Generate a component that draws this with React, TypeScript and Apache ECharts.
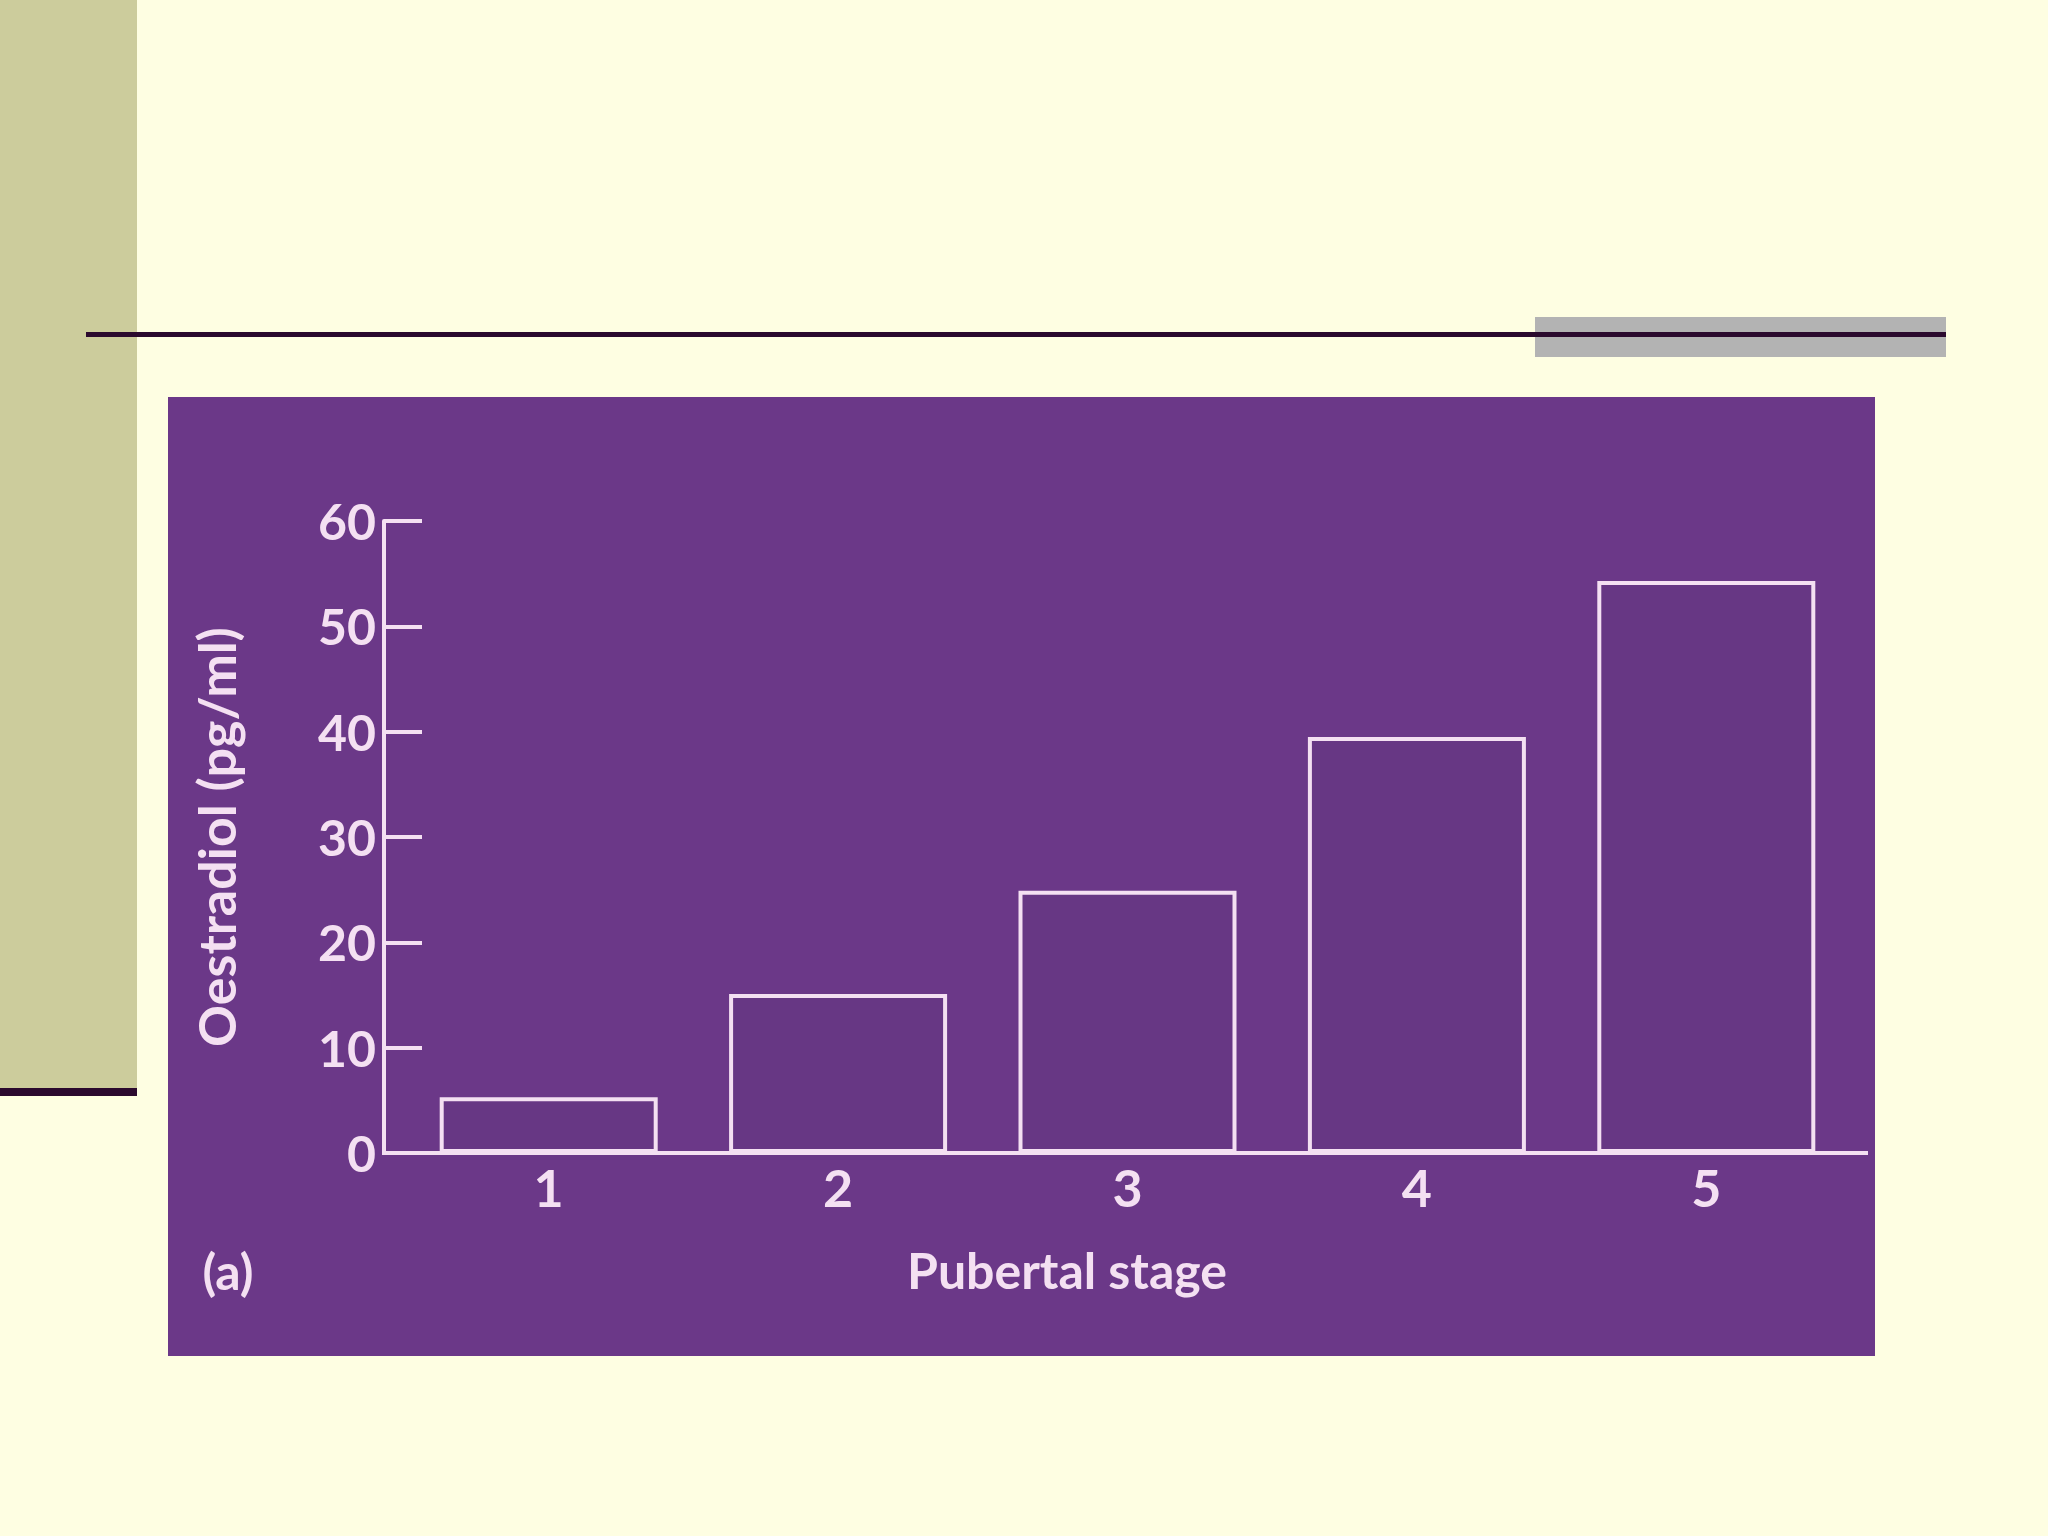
import React, { useEffect, useRef } from "react";
import * as echarts from "echarts";

const categories = ["1", "2", "3", "4", "5"];
const oestradiol = [5.3, 15.1, 24.9, 39.5, 54.3];
const yTicks = { min: 0, max: 60, interval: 10 };
const xTitle = "Pubertal stage";
const yTitle = "Oestradiol (pg/ml)";
const panelLabel = "(a)";

const INK = "#f4e0f2";
const FONT = "Lato, 'Open Sans', sans-serif";

export default function App() {
  const ref = useRef<HTMLDivElement>(null);
  useEffect(() => {
    if (!ref.current) return;
    const chart = echarts.init(ref.current, null, { renderer: "svg" });
    chart.setOption({
      animation: false,
      backgroundColor: "#fefee2",
      textStyle: { fontFamily: FONT },
      graphic: [
        { type: "rect", z: -10, shape: { x: 0, y: 0, width: 137, height: 1088 }, style: { fill: "#cccc9c" } },
        { type: "rect", z: -10, shape: { x: 0, y: 1088, width: 137, height: 8 }, style: { fill: "#2b0a2e" } },
        { type: "rect", z: -10, shape: { x: 1535, y: 317, width: 411, height: 40 }, style: { fill: "#b3b3b3" } },
        { type: "rect", z: -9, shape: { x: 86, y: 332, width: 1860, height: 5 }, style: { fill: "#2b0a2e" } },
        { type: "rect", z: -10, shape: { x: 168, y: 397, width: 1707, height: 959 }, style: { fill: "#6b3888" } },
        { type: "line", z: 5, shape: { x1: 382, y1: 1153, x2: 406, y2: 1153 }, style: { stroke: INK, lineWidth: 4 } },
        { type: "line", z: 5, shape: { x1: 1849, y1: 1153, x2: 1868, y2: 1153 }, style: { stroke: INK, lineWidth: 4 } },
        {
          type: "text", z: 5, x: 1067, y: 1270,
          style: { text: xTitle, fontSize: 50, fontWeight: "bold", fontFamily: FONT, fill: INK, textAlign: "center", textVerticalAlign: "middle" },
        },
        {
          type: "text", z: 5, x: 228, y: 1271,
          style: { text: panelLabel, fontSize: 50, fontWeight: "bold", fontFamily: FONT, fill: INK, textAlign: "center", textVerticalAlign: "middle" },
        },
      ],
      grid: { left: 404, right: 197, top: 521, bottom: 383 },
      xAxis: {
        type: "category",
        data: categories,
        axisLine: { lineStyle: { color: INK, width: 4 } },
        axisTick: { show: false },
        axisLabel: { color: INK, fontSize: 52, fontWeight: "bold", margin: 8, fontFamily: FONT },
      },
      yAxis: {
        type: "value",
        min: yTicks.min,
        max: yTicks.max,
        interval: yTicks.interval,
        offset: 20,
        name: yTitle,
        nameLocation: "middle",
        nameRotate: 90,
        nameGap: 142,
        nameTextStyle: { color: INK, fontSize: 52, fontWeight: "bold", fontFamily: FONT },
        axisLine: { show: true, lineStyle: { color: INK, width: 4 } },
        axisTick: { show: true, inside: true, length: 38, lineStyle: { color: INK, width: 4 } },
        axisLabel: { color: INK, fontSize: 50, fontWeight: "bold", margin: 8, fontFamily: FONT },
        splitLine: { show: false },
      },
      series: [
        {
          type: "bar",
          data: oestradiol,
          barWidth: 218,
          itemStyle: { color: "#673784", borderColor: INK, borderWidth: 4 },
        },
      ],
    });
    return () => chart.dispose();
  }, []);
  return (
    <div
      ref={ref}
      style={{ position: "fixed", left: 0, top: 0, width: 2048, height: 1536 }}
    />
  );
}
